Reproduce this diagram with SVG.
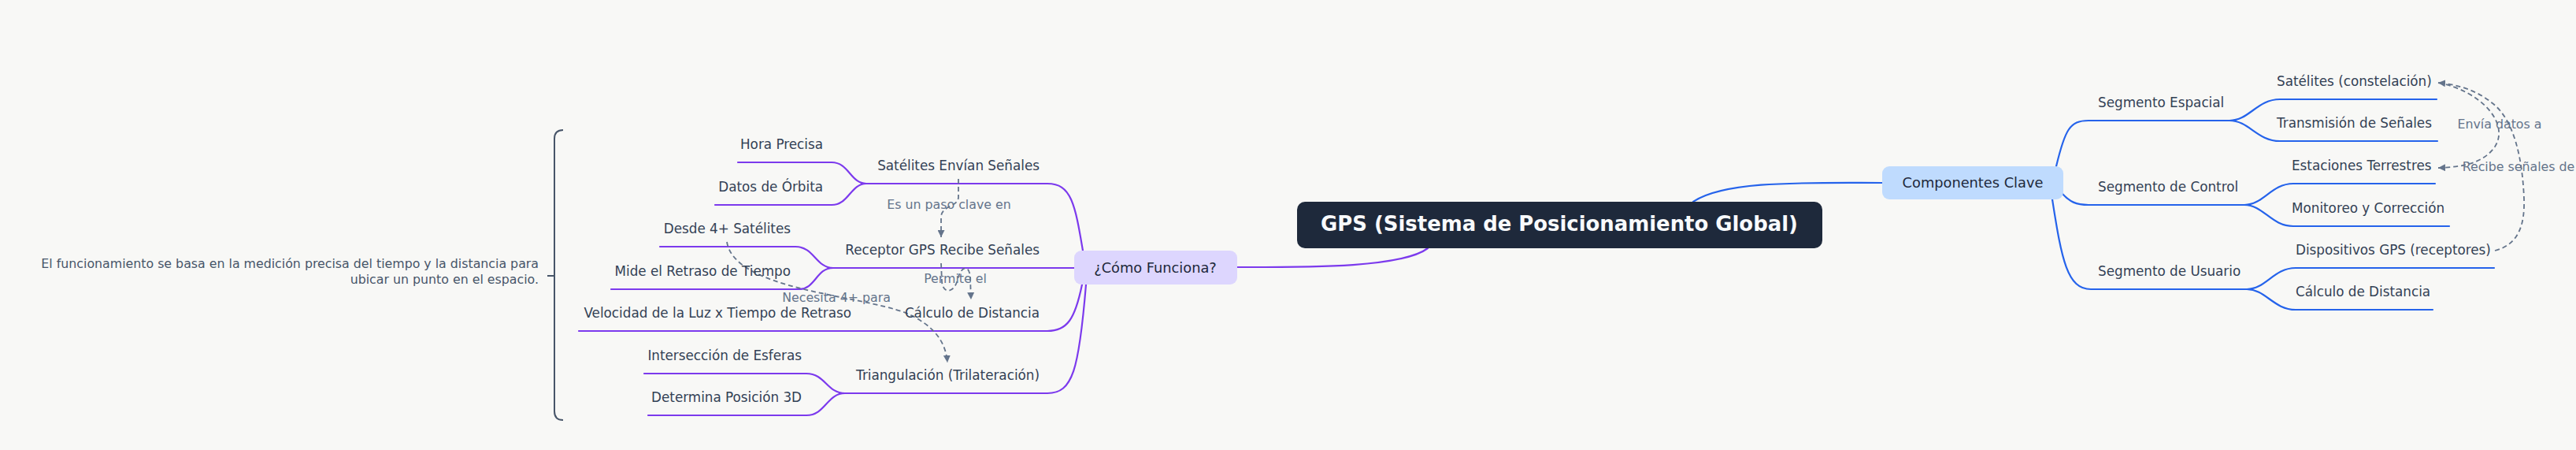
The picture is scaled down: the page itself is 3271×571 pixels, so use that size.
<svg xmlns="http://www.w3.org/2000/svg" width="3271" height="571" viewBox="0 0 3271 571">
<style>
.bg{fill:#f8f8f6}
.t{font-family:"DejaVu Sans","Noto Sans",sans-serif;font-size:16.8px;fill:#334155}
.te{text-anchor:end}
.nl{font-family:"DejaVu Sans","Noto Sans",sans-serif;font-size:17.8px;fill:#1e293b;text-anchor:middle}
.title{font-family:"DejaVu Sans","Noto Sans",sans-serif;font-size:25.9px;font-weight:bold;fill:#f8fafc;text-anchor:middle}
.lbl{font-family:"DejaVu Sans","Noto Sans",sans-serif;font-size:15.8px;fill:#64748b;text-anchor:middle}
.note{font-family:"DejaVu Sans","Noto Sans",sans-serif;font-size:15.8px;fill:#475569;text-anchor:end}
.p{fill:none;stroke:#7c3aed;stroke-width:2.2;stroke-linecap:round}
.b{fill:none;stroke:#2563eb;stroke-width:2.2;stroke-linecap:round}
.d{fill:none;stroke:#64748b;stroke-width:1.8;stroke-dasharray:6 4}
.br{fill:none;stroke:#475569;stroke-width:2}
</style>
<defs>
<marker id="arr" viewBox="0 0 10 10" refX="10" refY="5" markerWidth="9" markerHeight="9" markerUnits="userSpaceOnUse" orient="auto">
<path d="M0,0 L10,5 L0,10 z" fill="#64748b"/>
</marker>
</defs>
<rect class="bg" x="0" y="0" width="3271" height="571"/>

<g id="connectors">
<!-- root to branches -->
<path class="p" d="M1813 315 C1780 340 1660 339 1571 339"/>
<path class="b" d="M2150 256 C2190 229 2290 232 2390 232"/>
<!-- Como funciona children -->
<path class="p" d="M1375 318 C1365 258 1360 233 1330 233 L1100 233"/>
<path class="p" d="M1364 340 L1058 340"/>
<path class="p" d="M1374 361 C1365 405 1355 420 1330 420 L735 420"/>
<path class="p" d="M1379 361 C1370 470 1362 499 1330 499 L1073 499"/>
<!-- grandchildren left -->
<path class="p" d="M1100 233 C1080 233 1078 206 1056 206 L937 206"/>
<path class="p" d="M1100 233 C1080 233 1078 260 1056 260 L908 260"/>
<path class="p" d="M1058 340 C1036 340 1034 313 1010 313 L838 313"/>
<path class="p" d="M1058 340 C1036 340 1036 367 1014 367 L776 367"/>
<path class="p" d="M1073 499 C1050 499 1048 474 1024 474 L818 474"/>
<path class="p" d="M1073 499 C1050 499 1048 527 1024 527 L823 527"/>
<!-- Componentes children -->
<path class="b" d="M2611 211 C2622 165 2628 153 2652 153 L2831 153"/>
<path class="b" d="M2618 245 C2628 256 2636 260 2652 260 L2850 260"/>
<path class="b" d="M2606 253 C2618 330 2625 367 2655 367 L2853 367"/>
<!-- grandchildren right -->
<path class="b" d="M2831 153 C2856 153 2866 126 2895 126 L3094 126"/>
<path class="b" d="M2831 153 C2856 153 2866 179 2895 179 L3095 179"/>
<path class="b" d="M2850 260 C2874 260 2884 233 2912 233 L3092 233"/>
<path class="b" d="M2850 260 C2874 260 2884 287 2912 287 L3110 287"/>
<path class="b" d="M2853 367 C2877 367 2887 340 2915 340 L3167 340"/>
<path class="b" d="M2853 367 C2877 367 2887 393 2915 393 L3089 393"/>
<!-- dashed relations -->
<path class="d" marker-end="url(#arr)" d="M1217 227 L1217 250 C1217 263 1195 260 1195 276 L1195 301"/>
<path class="d" marker-end="url(#arr)" d="M1195 334 L1196 357 C1197 373 1211 373 1216 355 C1220 337 1231 335 1232 352 L1233 380"/>
<path class="d" marker-end="url(#arr)" d="M923 307 C933 368 1090 374 1150 397 C1185 412 1201 433 1203 460"/>
<path class="d" marker-end="url(#arr)" d="M3096 105 C3150 115 3190 158 3166 189 C3152 206 3130 212 3096 213"/>
<path class="d" marker-end="url(#arr)" d="M3168 318 C3200 310 3206 282 3205 252 C3203 200 3192 152 3165 131 C3143 113 3118 107 3096 105"/>
<text class="lbl" x="1205" y="265">Es un paso clave en</text>
<text class="lbl" x="1213" y="359">Permite el</text>
<text class="lbl" x="1062" y="383">Necesita 4+ para</text>
<text class="lbl" x="3174" y="163">Envía datos a</text>
<text class="lbl" x="3198" y="217">Recibe señales de</text>
</g>

<g id="root">
<rect x="1647" y="256" width="667" height="59" rx="10" fill="#1e293b"/>
<text class="title" x="1980" y="293">GPS (Sistema de Posicionamiento Global)</text>
</g>

<g id="como-funciona">
<rect x="1364" y="318" width="207" height="43" rx="9" fill="#ddd6fe"/>
<text class="nl" x="1467" y="346">¿Cómo Funciona?</text>
</g>

<g id="componentes-clave">
<rect x="2390" y="211" width="230" height="42" rx="9" fill="#bfdbfe"/>
<text class="nl" x="2505" y="238">Componentes Clave</text>
</g>

<g id="satelites-envian"><text class="t te" x="1320" y="216">Satélites Envían Señales</text></g>
<g id="hora-precisa"><text class="t te" x="1045" y="189">Hora Precisa</text></g>
<g id="datos-orbita"><text class="t te" x="1045" y="243">Datos de Órbita</text></g>
<g id="receptor"><text class="t te" x="1320" y="323">Receptor GPS Recibe Señales</text></g>
<g id="desde-4"><text class="t te" x="1004" y="296">Desde 4+ Satélites</text></g>
<g id="mide-retraso"><text class="t te" x="1004" y="350">Mide el Retraso de Tiempo</text></g>
<g id="calculo-distancia"><text class="t te" x="1320" y="403">Cálculo de Distancia</text></g>
<g id="velocidad-luz"><text class="t te" x="1081" y="403">Velocidad de la Luz x Tiempo de Retraso</text></g>
<g id="triangulacion"><text class="t te" x="1320" y="482">Triangulación (Trilateración)</text></g>
<g id="interseccion"><text class="t te" x="1018" y="457">Intersección de Esferas</text></g>
<g id="determina"><text class="t te" x="1018" y="510">Determina Posición 3D</text></g>

<g id="segmento-espacial"><text class="t" x="2664" y="136">Segmento Espacial</text></g>
<g id="satelites-constelacion"><text class="t" x="2891" y="109">Satélites (constelación)</text></g>
<g id="transmision"><text class="t" x="2891" y="162">Transmisión de Señales</text></g>
<g id="segmento-control"><text class="t" x="2664" y="243">Segmento de Control</text></g>
<g id="estaciones"><text class="t" x="2910" y="216">Estaciones Terrestres</text></g>
<g id="monitoreo"><text class="t" x="2910" y="270">Monitoreo y Corrección</text></g>
<g id="segmento-usuario"><text class="t" x="2664" y="350">Segmento de Usuario</text></g>
<g id="dispositivos"><text class="t" x="2915" y="323">Dispositivos GPS (receptores)</text></g>
<g id="calculo-distancia-2"><text class="t" x="2915" y="376">Cálculo de Distancia</text></g>

<g id="nota">
<path class="br" d="M715 165 Q704 165 704 176 L704 522 Q704 533 715 533 M695 350 L704 350"/>
<text class="note" x="684" y="340">El funcionamiento se basa en la medición precisa del tiempo y la distancia para</text>
<text class="note" x="684" y="360">ubicar un punto en el espacio.</text>
</g>
</svg>
